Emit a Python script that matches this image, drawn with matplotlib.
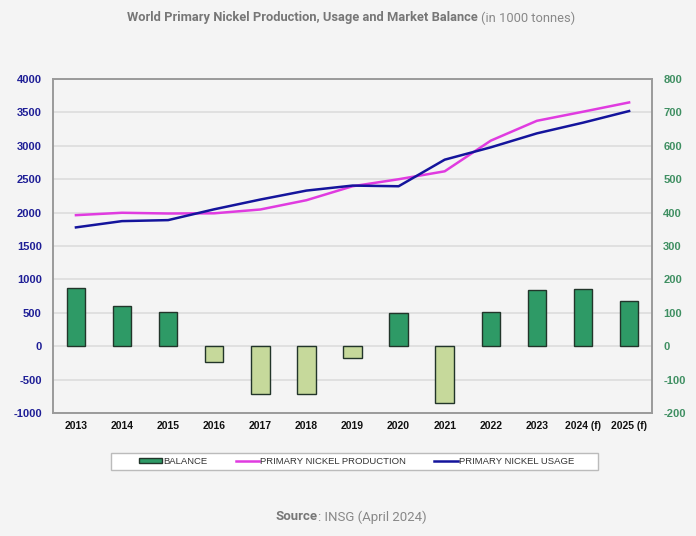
import numpy as np
import matplotlib.pyplot as plt
from matplotlib.patches import Patch, Rectangle
from matplotlib.lines import Line2D

plt.rcParams['axes.unicode_minus'] = False

years = ['2013', '2014', '2015', '2016', '2017', '2018', '2019', '2020',
         '2021', '2022', '2023', '2024 (f)', '2025 (f)']
balance = [174, 121, 103, -46, -144, -144, -36, 98, -169, 101, 169, 172, 136]
production = [1962, 1998, 1987, 1990, 2047, 2186, 2395, 2500, 2619, 3078, 3375, 3511, 3650]
usage = [1779, 1873, 1888, 2050, 2196, 2330, 2405, 2395, 2793, 2978, 3187, 3347, 3521]

bg = '#f4f4f4'
pos_col = '#2e9a66'
neg_col = '#c6d99b'
prod_col = '#e03be0'
use_col = '#14149c'

fig = plt.figure(figsize=(6.96, 5.36), dpi=100, facecolor=bg)
ax = fig.add_axes([0.076, 0.2295, 0.861, 0.623], facecolor=bg)
ax2 = ax.twinx()

x = np.arange(len(years))
cols = [pos_col if b >= 0 else neg_col for b in balance]
ax2.bar(x, balance, width=0.4, color=cols, edgecolor='#22352a', linewidth=1.0, zorder=2)
ax.plot(x, production, color=prod_col, lw=1.8, zorder=3)
ax.plot(x, usage, color=use_col, lw=1.8, zorder=3)

# lines drawn over bars
ax.set_zorder(ax2.get_zorder() + 1)
ax.patch.set_visible(False)
ax2.patch.set_visible(True)
ax2.patch.set_facecolor(bg)

ax.set_ylim(-1000, 4000)
ax.set_yticks(np.arange(-1000, 4001, 500))
ax2.set_ylim(-200, 800)
ax2.set_yticks(np.arange(-200, 801, 100))
ax.set_xlim(-0.5, len(years) - 0.5)
ax.set_xticks(x)
ax.set_xticklabels(years)

for v in np.arange(-200, 801, 100):
    ax2.axhline(v, color='#dddddd', lw=1.2, zorder=0)

for a in (ax, ax2):
    for s in a.spines.values():
        s.set_color('#9a9a9a')
        s.set_linewidth(1.2)
    a.tick_params(length=0, pad=8)

ax.tick_params(axis='y', labelcolor='#1e1e96', labelsize=8)
ax.tick_params(axis='x', labelcolor='#111111', labelsize=7.5, pad=6)
ax2.tick_params(axis='y', labelcolor='#3f8f62', labelsize=8)
for lab in ax.get_yticklabels() + ax.get_xticklabels() + ax2.get_yticklabels():
    lab.set_fontweight('bold')
    lab.set_family('Liberation Sans')

# legend box (wider than the legend contents, like the original)
fig.patches.append(Rectangle((111 / 696, 1 - 470 / 536), 487 / 696, 17 / 536,
                             transform=fig.transFigure, facecolor='white',
                             edgecolor='#bbbbbb', lw=1.0, zorder=1))

handles = [Patch(facecolor=pos_col, edgecolor='#22352a', label='BALANCE'),
           Line2D([0], [0], color=prod_col, lw=1.8, label='PRIMARY NICKEL PRODUCTION'),
           Line2D([0], [0], color=use_col, lw=1.8, label='PRIMARY NICKEL USAGE')]
leg = fig.legend(handles=handles, loc='center', bbox_to_anchor=(0.512, 0.139), ncol=3,
                 frameon=False, prop={'family': 'Liberation Sans', 'size': 6.8},
                 handlelength=2.5, handleheight=0.5, handletextpad=0.1, columnspacing=3.0,
                 borderpad=0.45)
leg.set_zorder(2)
for t in leg.get_texts():
    t.set_color('#333333')

fig.text(478 / 696, 1 - 18 / 536, 'World Primary Nickel Production, Usage and Market Balance',
         ha='right', va='center', fontsize=9.3, fontweight='bold', color='#777777', family='Roboto')
fig.text(481 / 696, 1 - 18 / 536, '(in 1000 tonnes)', ha='left', va='center',
         fontsize=9.3, color='#888888', family='Roboto')
fig.text(318 / 696, 1 - 517 / 536, 'Source', ha='right', va='center', fontsize=9.5,
         fontweight='bold', color='#777777', family='Roboto')
fig.text(318 / 696, 1 - 517 / 536, ': INSG (April 2024)', ha='left', va='center',
         fontsize=9.5, color='#888888', family='Roboto')

fig.savefig('out.png', dpi=100, facecolor=bg)
